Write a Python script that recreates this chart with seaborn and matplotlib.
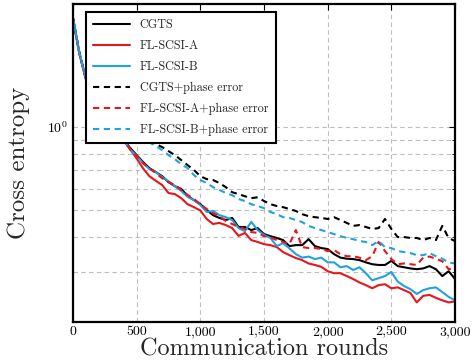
import numpy as np
import pandas as pd
import matplotlib
matplotlib.use('Agg')
import matplotlib.pyplot as plt
import matplotlib.ticker as mticker
import seaborn as sns

# ── data ──
rounds = list(range(0, 3001, 50))

cgts = [2.47, 1.85, 1.50, 1.34, 1.21, 1.11, 1.03, 0.96,
        0.898, 0.84, 0.792, 0.748, 0.711, 0.688, 0.665, 0.633, 0.612, 0.598,
        0.564, 0.545, 0.527, 0.502, 0.481, 0.47, 0.462, 0.47, 0.436, 0.436,
        0.425, 0.432, 0.411, 0.404, 0.398, 0.391, 0.372, 0.375, 0.375, 0.394,
        0.372, 0.366, 0.363, 0.348, 0.338, 0.335, 0.334, 0.331, 0.325, 0.320,
        0.318, 0.318, 0.329, 0.315, 0.312, 0.309, 0.307, 0.309, 0.315, 0.307,
        0.290, 0.302, 0.283]

scsi_a = [2.47, 1.84, 1.49, 1.33, 1.20, 1.10, 1.02, 0.95,
          0.89, 0.83, 0.77, 0.71, 0.665, 0.64, 0.618, 0.578, 0.573, 0.554,
          0.527, 0.514, 0.50, 0.466, 0.447, 0.451, 0.443, 0.432, 0.405, 0.415,
          0.391, 0.385, 0.378, 0.375, 0.369, 0.354, 0.345, 0.337, 0.331, 0.322,
          0.318, 0.313, 0.302, 0.297, 0.297, 0.290, 0.283, 0.275, 0.269, 0.262,
          0.269, 0.271, 0.262, 0.264, 0.258, 0.252, 0.233, 0.246, 0.248, 0.242,
          0.237, 0.233, 0.235]

scsi_b = [2.47, 1.86, 1.50, 1.34, 1.21, 1.11, 1.03, 0.96,
          0.898, 0.83, 0.786, 0.741, 0.705, 0.688, 0.66, 0.638, 0.612, 0.588,
          0.56, 0.545, 0.523, 0.494, 0.498, 0.481, 0.473, 0.462, 0.432, 0.421,
          0.455, 0.425, 0.408, 0.398, 0.372, 0.381, 0.365, 0.348, 0.338, 0.341,
          0.334, 0.338, 0.325, 0.325, 0.312, 0.315, 0.305, 0.312, 0.297, 0.280,
          0.285, 0.290, 0.300, 0.277, 0.267, 0.260, 0.250, 0.258, 0.262, 0.264,
          0.254, 0.244, 0.237]

cgts_pe = [2.47, 1.85, 1.50, 1.37, 1.27, 1.19, 1.12, 1.07, 1.02, 0.98, 0.95, 0.92, 0.89,
           0.868, 0.847, 0.819, 0.792, 0.76, 0.729, 0.70, 0.665, 0.649, 0.644,
           0.628, 0.607, 0.582, 0.573, 0.563, 0.554, 0.558, 0.541, 0.527, 0.519,
           0.514, 0.506, 0.498, 0.485, 0.477, 0.473, 0.47, 0.466, 0.473, 0.462,
           0.451, 0.44, 0.443, 0.436, 0.429, 0.432, 0.466, 0.429, 0.401, 0.401,
           0.398, 0.398, 0.391, 0.398, 0.391, 0.44, 0.398, 0.388]

scsi_a_pe = [2.47, 1.85, 1.50, 1.34, 1.21, 1.11, 1.03, 0.96,
             0.89, 0.83, 0.786, 0.741, 0.711, 0.682, 0.654, 0.633, 0.618, 0.593,
             0.569, 0.55, 0.527, 0.506, 0.489, 0.477, 0.458, 0.447, 0.436, 0.429,
             0.418, 0.415, 0.404, 0.40, 0.391, 0.385, 0.378, 0.425, 0.369, 0.366,
             0.366, 0.363, 0.357, 0.360, 0.348, 0.342, 0.342, 0.338, 0.331, 0.342,
             0.385, 0.357, 0.334, 0.32, 0.322, 0.32, 0.318, 0.338, 0.341, 0.335,
             0.328, 0.307, 0.309]

scsi_b_pe = [2.47, 1.85, 1.50, 1.36, 1.26, 1.18, 1.11, 1.06, 1.01, 0.97, 0.94, 0.91, 0.88,
             0.854, 0.826, 0.792, 0.766, 0.735, 0.711, 0.671, 0.644, 0.628, 0.607,
             0.593, 0.578, 0.568, 0.55, 0.541, 0.527, 0.519, 0.51, 0.494, 0.485,
             0.473, 0.47, 0.462, 0.454, 0.44, 0.432, 0.425, 0.418, 0.411, 0.404,
             0.398, 0.394, 0.388, 0.385, 0.375, 0.388, 0.369, 0.366, 0.357, 0.354,
             0.351, 0.345, 0.345, 0.351, 0.342, 0.335, 0.325, 0.322]

labels = ['CGTS', 'FL-SCSI-A', 'FL-SCSI-B',
          'CGTS+phase error', 'FL-SCSI-A+phase error', 'FL-SCSI-B+phase error']
series = [cgts, scsi_a, scsi_b, cgts_pe, scsi_a_pe, scsi_b_pe]

RED = '#e8161c'
CYAN = '#1fa2e0'
DASH = (0, (3.0, 2.2))
colors = ['black', RED, CYAN, 'black', RED, CYAN]
styles = ['-', '-', '-', DASH, DASH, DASH]

# ── style ──
sns.set_theme(style='white')
plt.rcParams['font.family'] = ['cmr10', 'DejaVu Serif']
plt.rcParams['mathtext.fontset'] = 'cm'
plt.rcParams['axes.formatter.use_mathtext'] = True

fig = plt.figure(figsize=(4.74, 3.6), dpi=100)
ax = fig.add_axes([73 / 474, 1 - 322 / 360, 382 / 474, 318 / 360])

for lab, vals, col, ls in zip(labels, series, colors, styles):
    df = pd.DataFrame({'round': rounds, 'ce': vals})
    sns.lineplot(data=df, x='round', y='ce', ax=ax, color=col,
                 linestyle=ls, linewidth=1.5, label=lab, legend=False)

ax.set_yscale('log')
ax.set_xlim(0, 3000)
ax.set_ylim(0.198, 2.78)

ax.xaxis.set_major_locator(mticker.MultipleLocator(500))
ax.xaxis.set_major_formatter(mticker.FuncFormatter(lambda v, _: f'{int(v):,}'))
ax.yaxis.set_major_locator(mticker.FixedLocator([1.0]))
ax.yaxis.set_minor_locator(mticker.FixedLocator([0.2, 0.3, 0.4, 0.5, 0.6, 0.7, 0.8, 0.9]))
ax.yaxis.set_minor_formatter(mticker.NullFormatter())

grid_kw = dict(color='#bdbdbd', linestyle=(0, (4, 3)), linewidth=0.8)
ax.grid(True, which='major', axis='both', **grid_kw)
ax.grid(True, which='minor', axis='y', **grid_kw)

ax.tick_params(which='both', direction='in', top=True, right=True,
               colors='black', labelsize=10)
ax.tick_params(which='major', length=4, width=0.8)
ax.tick_params(which='minor', length=2, width=0.6)
ax.tick_params(axis='x', pad=3)

for sp in ax.spines.values():
    sp.set_color('black')
    sp.set_linewidth(1.6)

ax.set_xlabel('Communication rounds', fontsize=17.5, labelpad=0)
ax.set_ylabel('Cross entropy', fontsize=18, labelpad=12)

leg = ax.legend(loc='upper left', bbox_to_anchor=(0.034, 0.975),
                fontsize=8.8, handlelength=3.0, labelspacing=0.72,
                borderpad=0.6, handletextpad=0.8, fancybox=False,
                framealpha=1, edgecolor='black', borderaxespad=0)
leg.get_frame().set_linewidth(1.5)
leg.set_zorder(5)

fig.savefig('out.png', dpi=100)
